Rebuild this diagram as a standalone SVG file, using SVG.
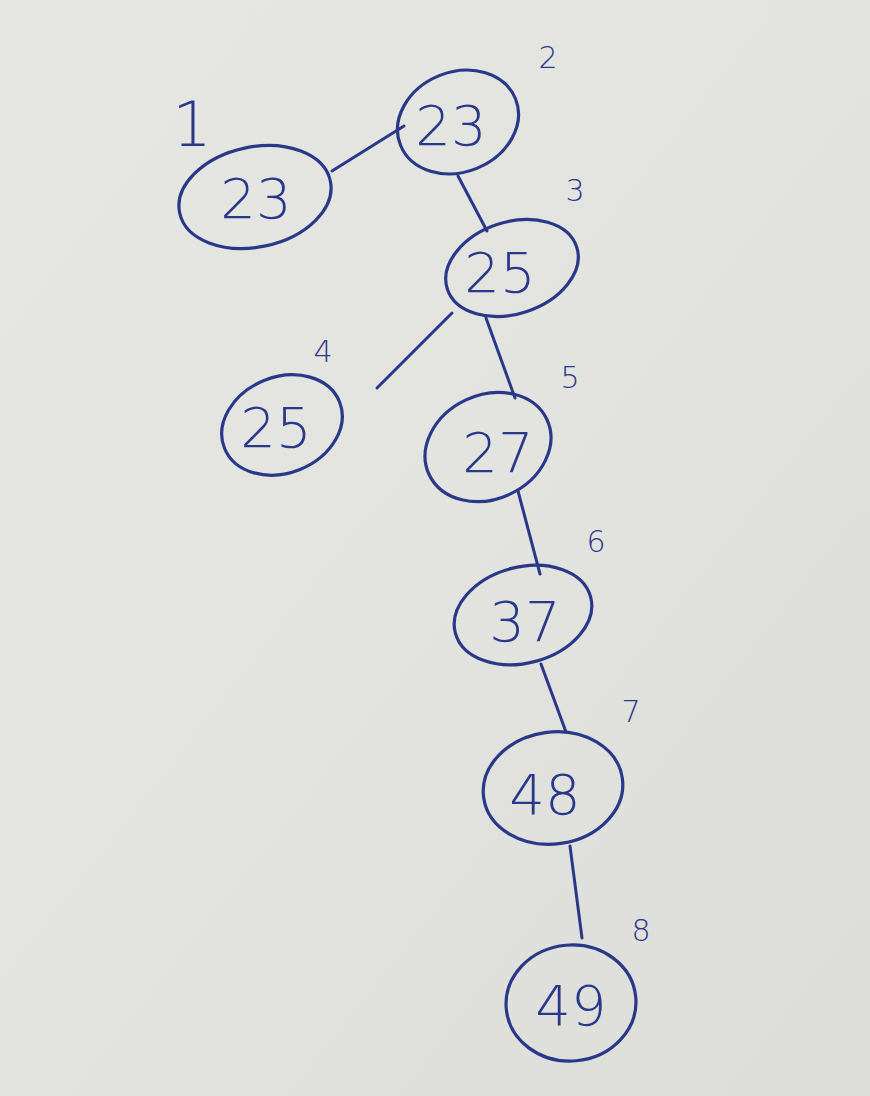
<svg xmlns="http://www.w3.org/2000/svg" width="870" height="1096" viewBox="0 0 870 1096">
<defs>
<linearGradient id="bg" x1="0" y1="0" x2="1" y2="1">
<stop offset="0" stop-color="#e6e6e3"/>
<stop offset="0.5" stop-color="#e3e3e0"/>
<stop offset="1" stop-color="#dcdcd9"/>
</linearGradient>
<style>
.n{fill:none;stroke:#2a3889;stroke-width:3.2}
.e{stroke:#2a3889;stroke-width:3;fill:none;stroke-linecap:round}
.v{font-family:"DejaVu Sans",sans-serif;font-weight:300;font-size:56px;fill:#2a3889;text-anchor:middle}
.l{font-family:"DejaVu Sans",sans-serif;font-weight:300;font-size:30px;fill:#2a3889;text-anchor:middle}
.big{font-size:62px}
</style>
</defs>
<rect width="870" height="1096" fill="url(#bg)"/>
<g id="connectors">
<line class="e" x1="332" y1="171" x2="404" y2="126"/>
<line class="e" x1="458" y1="176" x2="487" y2="231"/>
<line class="e" x1="452" y1="313" x2="377" y2="388"/>
<line class="e" x1="486" y1="318" x2="515" y2="398"/>
<line class="e" x1="518" y1="491" x2="540" y2="574"/>
<line class="e" x1="541" y1="664" x2="566" y2="732"/>
<line class="e" x1="570" y1="846" x2="582" y2="938"/>
</g>
<g id="node1">
<ellipse class="n" cx="255" cy="197" rx="77" ry="50" transform="rotate(-12 255 197)"/>
<text class="v" x="256" y="218">23</text>
<text class="l big" x="192" y="146">1</text>
</g>
<g id="node2">
<ellipse class="n" cx="458" cy="122" rx="62" ry="50" transform="rotate(-22 458 122)"/>
<text class="v" x="451" y="145">23</text>
<text class="l" x="548" y="68">2</text>
</g>
<g id="node3">
<ellipse class="n" cx="512" cy="268" rx="68" ry="46" transform="rotate(-18 512 268)"/>
<text class="v" x="500" y="292">25</text>
<text class="l" x="575" y="201">3</text>
</g>
<g id="node4">
<ellipse class="n" cx="282" cy="425" rx="62" ry="48" transform="rotate(-22 282 425)"/>
<text class="v" x="276" y="447">25</text>
<text class="l" x="323" y="362">4</text>
</g>
<g id="node5">
<ellipse class="n" cx="488" cy="447" rx="65" ry="52" transform="rotate(-25 488 447)"/>
<text class="v" x="498" y="472">27</text>
<text class="l" x="570" y="388">5</text>
</g>
<g id="node6">
<ellipse class="n" cx="523" cy="615" rx="70" ry="48" transform="rotate(-15 523 615)"/>
<text class="v" x="525" y="641">37</text>
<text class="l" x="596" y="552">6</text>
</g>
<g id="node7">
<ellipse class="n" cx="553" cy="788" rx="70" ry="56" transform="rotate(-8 553 788)"/>
<text class="v" x="545" y="814">48</text>
<text class="l" x="631" y="722">7</text>
</g>
<g id="node8">
<ellipse class="n" cx="571" cy="1003" rx="65" ry="58" transform="rotate(-5 571 1003)"/>
<text class="v" x="571" y="1025">49</text>
<text class="l" x="641" y="941">8</text>
</g>
</svg>
